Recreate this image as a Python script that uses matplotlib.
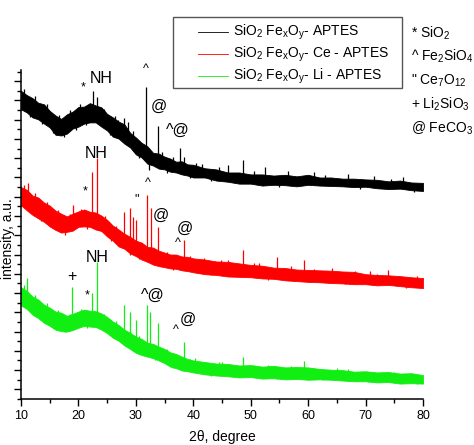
import matplotlib
matplotlib.use("Agg")
import matplotlib.pyplot as plt
from matplotlib.ticker import MultipleLocator
from matplotlib.patches import Rectangle
from matplotlib.lines import Line2D

plt.rcParams['font.family'] = ['Liberation Sans', 'DejaVu Sans']
plt.rcParams['mathtext.fontset'] = 'custom'
plt.rcParams['mathtext.rm'] = 'Liberation Sans'
plt.rcParams['mathtext.it'] = 'Liberation Sans:italic'

# 2theta grid for the noise bands
two_theta = [10, 11, 12, 13, 14, 15, 16, 17, 18, 19, 20, 21, 22, 23, 24, 25, 26, 27, 28, 29,
             30, 31, 32, 33, 34, 35, 36, 37, 38, 39, 40, 42, 44, 46, 48, 50, 52, 54, 56, 58,
             60, 62, 64, 66, 68, 70, 72, 74, 76, 78, 80]

# SiO2 FexOy - APTES (upper / lower edge of the noisy trace)
black_hi = [7750, 7640, 7560, 7440, 7400, 7230, 7110, 7020, 7140, 7210, 7330, 7340, 7430, 7370, 7320,
            7150, 7060, 6950, 6880, 6660, 6540, 6400, 6310, 6140, 6120, 6040, 5990, 5910, 5920, 5840,
            5830, 5740, 5710, 5630, 5630, 5580, 5580, 5550, 5570, 5530, 5570, 5500, 5500, 5470, 5470,
            5450, 5440, 5400, 5420, 5370, 5360]
black_lo = [7270, 7190, 7060, 7010, 6900, 6800, 6610, 6590, 6640, 6770, 6820, 6900, 6930, 6930, 6820,
            6720, 6560, 6510, 6380, 6280, 6100, 6020, 5860, 5810, 5730, 5710, 5650, 5630, 5580, 5550,
            5500, 5500, 5420, 5390, 5340, 5340, 5290, 5310, 5300, 5270, 5310, 5290, 5280, 5270, 5250,
            5260, 5220, 5200, 5210, 5170, 5150]
# peaks and noise spikes: position, start, tip
black_spike_x = [22.5, 23.2, 26.9, 27.9, 28.7, 31.7, 32.3, 33.8, 37.7, 38.3, 41.5, 44.5, 46.0, 48.6,
                 52.5, 56.5, 61.0, 67.0, 71.5, 76.5,
                 10.5, 11.5, 12.4, 13.6, 14.5, 15.5, 16.6, 17.5, 18.5, 19.5, 20.3, 21.4, 24.5, 25.5,
                 26.3, 29.5, 30.5, 34.5, 35.5, 36.5, 39.5, 40.5, 43.0, 50.5, 55.0, 63.0, 69.0, 74.5,
                 78.5]
black_spike_from = [7170, 7150, 6770, 6630, 6520, 6150, 6070, 5930, 5760, 5740, 5620, 5560, 5510, 5480,
                    5430, 5430, 5420, 5380, 5350, 5310,
                    7480, 7360, 7280, 7200, 7130, 6980, 6830, 6840, 6920, 7010, 7090, 7130, 7020, 6880,
                    6790, 6400, 6310, 5890, 5850, 5800, 5690, 5650, 5580, 5460, 5430, 5390, 5360, 5300,
                    5270]
black_spike_to = [7750, 7590, 7000, 7050, 6940, 7850, 5700, 6840, 6270, 6030, 5850, 5780, 5820, 5950,
                  5770, 5660, 5650, 5580, 5530, 5500,
                  7800, 7060, 7620, 6900, 7420, 6660, 7110, 6540, 7240, 6720, 7400, 6850, 7290, 6610,
                  7100, 6700, 6010, 6160, 5610, 6030, 5480, 5880, 5420, 5660, 5250, 5560, 5200, 5460,
                  5130]

# SiO2 FexOy - Ce - APTES
red_hi = [5250, 5180, 5030, 4980, 4850, 4770, 4640, 4560, 4490, 4560, 4620, 4670, 4610, 4590, 4510,
          4400, 4250, 4150, 4040, 3960, 3860, 3810, 3700, 3680, 3600, 3550, 3500, 3500, 3450, 3440,
          3400, 3370, 3320, 3310, 3270, 3230, 3210, 3160, 3150, 3110, 3100, 3090, 3080, 3060, 3050,
          2990, 2970, 2960, 2940, 2910, 2890]
red_lo = [4780, 4650, 4530, 4440, 4350, 4230, 4140, 4070, 4090, 4120, 4220, 4230, 4220, 4150, 4110,
          3970, 3860, 3710, 3650, 3530, 3460, 3370, 3310, 3240, 3200, 3170, 3140, 3130, 3090, 3070,
          3040, 2990, 2970, 2930, 2920, 2910, 2880, 2870, 2830, 2810, 2790, 2780, 2760, 2750, 2730,
          2730, 2700, 2710, 2680, 2650, 2630]
red_spike_x = [11.2, 19.0, 22.4, 23.2, 27.9, 28.9, 29.5, 30.1, 31.9, 32.6, 33.3, 33.8, 38.4, 41.8,
               46.0, 48.7, 51.5, 54.5, 57.0, 59.3, 64.2, 68.2, 70.8, 73.9,
               10.5, 11.7, 12.5, 13.5, 14.6, 15.6, 16.5, 17.6, 18.5, 20.5, 21.5, 24.6, 25.6, 26.5,
               29.0, 30.6, 35.5, 36.5, 39.5, 43.0, 44.8, 50.5, 53.0, 61.0, 66.5, 72.0, 77.0, 79.0]
red_spike_from = [4900, 4300, 4400, 4380, 3880, 3750, 3700, 3650, 3500, 3480, 3450, 3400, 3270, 3200,
                  3120, 3090, 3050, 3020, 2990, 2950, 2920, 2890, 2860, 2830,
                  5000, 4870, 4780, 4650, 4560, 4440, 4350, 4300, 4290, 4420, 4450, 4250, 4110, 4000,
                  3740, 3600, 3350, 3320, 3250, 3160, 3140, 3070, 3030, 2940, 2900, 2840, 2800, 2780]
red_spike_to = [5350, 4780, 5640, 6010, 4600, 4710, 4470, 4390, 5040, 4710, 3220, 4210, 3870, 3420,
                3350, 3610, 3280, 3430, 3200, 3350, 3150, 3070, 3060, 3090,
                5300, 4590, 5090, 4360, 4860, 4180, 4650, 4020, 4560, 4680, 4170, 4490, 3860, 4250,
                3500, 3380, 3560, 3100, 3460, 2960, 3370, 3270, 2840, 3120, 2730, 3000, 2640, 2950]

# SiO2 FexOy - Li - APTES
green_hi = [2650, 2560, 2410, 2330, 2200, 2120, 2020, 1990, 1910, 1960, 2020, 2070, 2040, 2030, 1970,
            1880, 1760, 1670, 1550, 1470, 1370, 1310, 1210, 1180, 1110, 1050, 960, 920, 850, 790,
            750, 710, 670, 660, 620, 630, 590, 610, 570, 580, 570, 530, 510, 500, 460,
            470, 440, 450, 410, 420, 370]
green_lo = [2180, 2090, 1940, 1850, 1730, 1650, 1550, 1510, 1500, 1540, 1600, 1650, 1630, 1620, 1550,
            1460, 1340, 1260, 1140, 1050, 950, 890, 850, 810, 750, 680, 590, 550, 490, 470,
            440, 390, 360, 340, 310, 320, 280, 290, 260, 270, 250, 260, 250, 230, 210,
            210, 180, 190, 150, 160, 150]
green_spike_x = [11.0, 18.9, 22.4, 23.2, 27.9, 28.9, 30.1, 31.9, 32.5, 33.3, 33.8, 38.4, 40.3, 45.0,
                 48.6, 53.0, 59.3, 65.0, 72.8,
                 10.5, 11.7, 12.5, 13.5, 14.6, 15.6, 16.5, 17.6, 18.5, 20.5, 21.5, 24.5, 25.5, 26.5,
                 29.5, 30.6, 35.5, 36.5, 39.5, 43.0, 44.5, 50.5, 54.5, 57.0, 62.5, 67.0, 70.5, 75.0,
                 79.0]
green_spike_from = [2330, 1720, 1830, 1820, 1350, 1260, 1150, 1020, 1000, 980, 930, 670, 590, 500,
                    470, 440, 410, 370, 310,
                    2420, 2280, 2180, 2080, 1960, 1860, 1780, 1740, 1720, 1830, 1850, 1720, 1650, 1530,
                    1210, 1130, 850, 780, 610, 530, 510, 470, 450, 420, 390, 350, 340, 300,
                    270]
green_spike_to = [2890, 2650, 2500, 3300, 2180, 2000, 1790, 2180, 2000, 750, 1720, 1220, 810, 720,
                  830, 640, 730, 560, 440,
                  2700, 2020, 2450, 1810, 2240, 1600, 2060, 1480, 1960, 2090, 1600, 1950, 1410, 1780,
                  1000, 1380, 1050, 560, 800, 360, 700, 640, 280, 600, 240, 520, 200, 460,
                  140]

# phase marks on the patterns: (label, 2theta, intensity)
marks = [("*", 20.74, 7826), ("NH", 23.88, 8078), ("^", 31.71, 8312), ("@", 34.08, 7340),
         ("^@", 37.39, 6716),
         ("NH", 23.06, 6110), ("*", 21.14, 5130), ('"', 30.15, 4932), ("^", 32.17, 5348),
         ("@", 34.33, 4524), ("^", 37.28, 3788), ("@", 38.56, 4178),
         ("NH", 23.29, 3414), ("+", 18.83, 2938), ("*", 21.44, 2444), ("^@", 32.98, 2444),
         ("^", 36.99, 1534), ("@", 39.14, 1812)]

series_names = [r"SiO$_2$ Fe$_{\mathrm{x}}$O$_{\mathrm{y}}$- APTES",
                r"SiO$_2$ Fe$_{\mathrm{x}}$O$_{\mathrm{y}}$- Ce - APTES",
                r"SiO$_2$ Fe$_{\mathrm{x}}$O$_{\mathrm{y}}$- Li - APTES"]
phase_key = ["* SiO$_2$", "^ Fe$_2$SiO$_4$", '" Ce$_7$O$_{12}$', "+ Li$_2$SiO$_3$", "@ FeCO$_3$"]

colors = ['black', '#ff0000', '#11ee11']

fig = plt.figure(figsize=(4.74, 4.45), dpi=100)
ax = fig.add_axes([21 / 474, 46 / 445, 402 / 474, 329 / 445])

bands = [(black_hi, black_lo, black_spike_x, black_spike_from, black_spike_to),
         (red_hi, red_lo, red_spike_x, red_spike_from, red_spike_to),
         (green_hi, green_lo, green_spike_x, green_spike_from, green_spike_to)]
for (hi, lo, sx, sf, st), c in zip(bands, colors):
    ax.fill_between(two_theta, lo, hi, color=c, lw=0.6, edgecolor=c)
    ax.vlines(sx, sf, st, color=c, lw=0.9)

for lab, x, y in marks:
    size = 9 if lab in ("*", "^", '"') else 11.5
    ax.text(x, y, lab, fontsize=size, ha='center', va='center', clip_on=False)

ax.set_xlim(10, 80)
ax.set_ylim(-250, 8290)
ax.xaxis.set_major_locator(MultipleLocator(10))
ax.xaxis.set_minor_locator(MultipleLocator(5))
ax.yaxis.set_major_locator(MultipleLocator(500))
ax.yaxis.set_minor_locator(MultipleLocator(250))
ax.set_yticklabels([])
ax.tick_params(which='major', length=5, width=1, direction='out', labelsize=9, pad=3)
ax.tick_params(which='minor', length=3, width=1, direction='out')
for s in ['top', 'right']:
    ax.spines[s].set_visible(False)
for s in ['left', 'bottom']:
    ax.spines[s].set_linewidth(1.1)

ax.set_xlabel("2θ, degree", fontsize=10)
ax.xaxis.set_label_coords(0.5, -0.095)
ax.set_ylabel("intensity, a.u.", fontsize=10)
ax.yaxis.set_label_coords(-0.015, 0.486)

# legend box drawn by hand above the plot
W, H = 474, 445
fig.add_artist(Rectangle((173 / W, 1 - 88 / H), 229 / W, 71 / H, transform=fig.transFigure,
                         fill=False, edgecolor='#555555', lw=1))
for i, (name, c) in enumerate(zip(series_names, colors)):
    yy = 1 - (32 + 22 * i) / H
    fig.add_artist(Line2D([198 / W, 228 / W], [yy, yy], color=c, lw=0.6, transform=fig.transFigure))
    fig.text(233 / W, yy, name, fontsize=10, ha='left', va='center')

for i, key in enumerate(phase_key):
    fig.text(411 / W, 1 - (33 + 23.7 * i) / H, key, fontsize=10, ha='left', va='center')

fig.savefig("out.png", dpi=100)
